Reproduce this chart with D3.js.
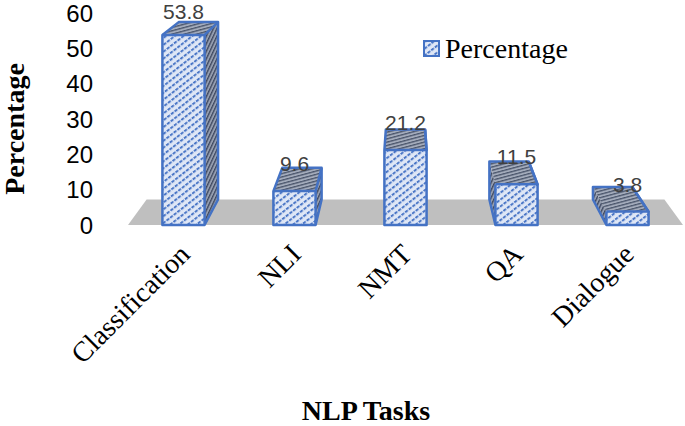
<!DOCTYPE html>
<html>
<head>
<meta charset="utf-8">
<script src="https://cdn.jsdelivr.net/npm/d3@7"></script>
<style>
  body { margin: 0; background: #fff; }
  svg { display: block; }
</style>
</head>
<body>
<div id="chart"></div>
<script>
var tasks = ["Classification", "NLI", "NMT", "QA", "Dialogue"];
var percentages = [53.8, 9.6, 21.2, 11.5, 3.8];
var yTicks = [0, 10, 20, 30, 40, 50, 60];

var W = 685, H = 426;
var blue = "#4472c4";

var svg = d3.select("#chart").append("svg")
    .attr("width", W)
    .attr("height", H);

var x = d3.scaleBand()
    .domain(tasks)
    .range([128, 683])
    .paddingInner(0.62)
    .paddingOuter(0.31);

var y = d3.scaleLinear()
    .domain([0, 60])
    .range([225, 13]);

// perspective: every back corner moves toward one vanishing point
var vp = {x: (x.range()[0] + x.range()[1]) / 2, y: -156};
var depth = 0.067;
function back(p)
{
    return [p[0] + (vp.x - p[0]) * depth, p[1] + (vp.y - p[1]) * depth];
}
function pts(list)
{
    return list.map(function(p){ return p.join(","); }).join(" ");
}

var defs = svg.append("defs");

var frontPat = defs.append("pattern")
    .attr("id", "frontPat")
    .attr("patternUnits", "userSpaceOnUse")
    .attr("width", 4.6)
    .attr("height", 5.4)
    .attr("patternTransform", "rotate(-38)");
frontPat.append("rect").attr("width", 4.6).attr("height", 5.4).attr("fill", "#dfe7f6");
frontPat.append("rect").attr("width", 3.3).attr("height", 2).attr("fill", "#4a76c6");

var topPat = defs.append("pattern")
    .attr("id", "topPat")
    .attr("patternUnits", "userSpaceOnUse")
    .attr("width", 4)
    .attr("height", 3.2)
    .attr("patternTransform", "rotate(-15)");
topPat.append("rect").attr("width", 4).attr("height", 3.2).attr("fill", "#a3abbb");
topPat.append("rect").attr("width", 4).attr("height", 1.3).attr("fill", "#4a556b");

var sidePat = defs.append("pattern")
    .attr("id", "sidePat")
    .attr("patternUnits", "userSpaceOnUse")
    .attr("width", 3.2)
    .attr("height", 4)
    .attr("patternTransform", "rotate(25)");
sidePat.append("rect").attr("width", 3.2).attr("height", 4).attr("fill", "#959eb0");
sidePat.append("rect").attr("width", 1.3).attr("height", 4).attr("fill", "#3e4860");

// floor
var fl = [x.range()[0], y(0)], fr = [x.range()[1], y(0)];
svg.append("polygon")
    .attr("points", pts([fl, fr, back(fr), back(fl)]))
    .attr("fill", "#bfbfbf");

// y tick labels
svg.append("g")
    .selectAll("text")
    .data(yTicks)
    .enter().append("text")
    .attr("x", 93)
    .attr("y", function(d){ return y(d); })
    .attr("dy", "0.36em")
    .attr("text-anchor", "end")
    .style("font-family", "Liberation Sans, Arial, sans-serif")
    .style("font-size", "24px")
    .attr("fill", "#000")
    .text(function(d){ return d; });

// bars
var bars = svg.append("g").selectAll("g")
    .data(tasks)
    .enter().append("g");

bars.each(function(d, i){
    var g = d3.select(this);
    var x0 = x(d), x1 = x0 + x.bandwidth();
    var yT = y(percentages[i]), yB = y(0);
    var ftl = [x0, yT], ftr = [x1, yT], fbl = [x0, yB], fbr = [x1, yB];

    if(x1 < vp.x)
        g.append("polygon")
            .attr("points", pts([ftr, back(ftr), back(fbr), fbr]))
            .attr("fill", "url(#sidePat)");
    else if(x0 > vp.x)
        g.append("polygon")
            .attr("points", pts([ftl, back(ftl), back(fbl), fbl]))
            .attr("fill", "url(#sidePat)");

    g.append("polygon")
        .attr("points", pts([ftl, ftr, back(ftr), back(ftl)]))
        .attr("fill", "url(#topPat)");

    g.append("rect")
        .attr("x", x0)
        .attr("y", yT)
        .attr("width", x1 - x0)
        .attr("height", yB - yT)
        .attr("fill", "url(#frontPat)");

    // outline of the visible box
    var outline = [ftl, back(ftl), back(ftr), ftr, fbr, fbl];
    if(x1 < vp.x)
        outline = [ftl, back(ftl), back(ftr), back(fbr), fbr, fbl];
    else if(x0 > vp.x)
        outline = [fbl, back(fbl), back(ftl), back(ftr), ftr, fbr];
    g.append("polygon")
        .attr("points", pts(outline))
        .attr("fill", "none")
        .attr("stroke", blue)
        .attr("stroke-width", 2.5)
        .attr("stroke-linejoin", "round");
    g.append("polyline")
        .attr("points", pts([ftl, ftr, back(ftr)]))
        .attr("fill", "none")
        .attr("stroke", blue)
        .attr("stroke-width", 2.5)
        .attr("stroke-linejoin", "round");
    if(x1 < vp.x || x0 > vp.x)
    {
        var edge = x1 < vp.x ? [ftr, fbr] : [ftl, fbl];
        g.append("polyline")
            .attr("points", pts(edge))
            .attr("stroke", blue)
            .attr("stroke-width", 2.5);
    }

    g.append("text")
        .attr("x", (x0 + x1) / 2)
        .attr("y", Math.max(yT - 20, 19))
        .attr("text-anchor", "middle")
        .style("font-family", "Liberation Sans, Arial, sans-serif")
        .style("font-size", "21px")
        .attr("fill", "#404040")
        .text(percentages[i]);
});

// x tick labels
svg.append("g")
    .selectAll("text")
    .data(tasks)
    .enter().append("text")
    .attr("transform", function(d){
        var cx = x(d) + x.bandwidth() / 2 + 8;
        return "translate(" + cx + ",256) rotate(-45)";
    })
    .attr("text-anchor", "end")
    .style("font-family", "Liberation Serif, Times New Roman, serif")
    .style("font-size", "28px")
    .attr("fill", "#000")
    .text(function(d){ return d; });

// axis titles
svg.append("text")
    .attr("transform", "translate(24,129) rotate(-90)")
    .attr("text-anchor", "middle")
    .style("font-family", "Liberation Serif, Times New Roman, serif")
    .style("font-size", "28px")
    .style("font-weight", "bold")
    .text("Percentage");

svg.append("text")
    .attr("x", 366)
    .attr("y", 420)
    .attr("text-anchor", "middle")
    .style("font-family", "Liberation Serif, Times New Roman, serif")
    .style("font-size", "28px")
    .style("font-weight", "bold")
    .text("NLP Tasks");

// legend
var legend = svg.append("g").attr("transform", "translate(424,41)");
legend.append("rect")
    .attr("width", 15)
    .attr("height", 15)
    .attr("fill", "url(#frontPat)")
    .attr("stroke", blue)
    .attr("stroke-width", 2);
legend.append("text")
    .attr("x", 21)
    .attr("y", 17)
    .style("font-family", "Liberation Serif, Times New Roman, serif")
    .style("font-size", "28px")
    .text("Percentage");
</script>
</body>
</html>
